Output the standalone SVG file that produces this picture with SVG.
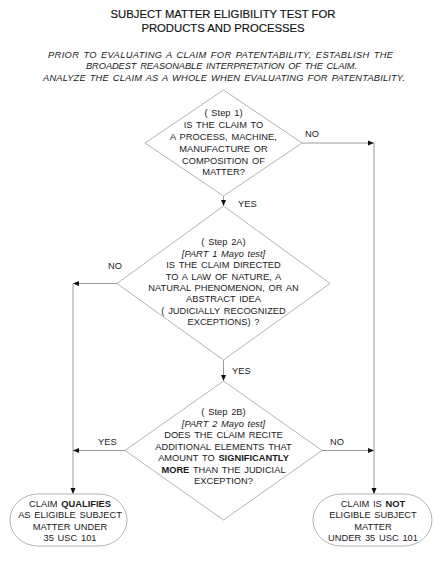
<svg xmlns="http://www.w3.org/2000/svg" width="441" height="563" viewBox="0 0 441 563">
<defs>
<marker id="ah" markerUnits="userSpaceOnUse" markerWidth="7" markerHeight="6" refX="6" refY="3" orient="auto">
<path d="M0,0.5 L6,3 L0,5.5 Z" fill="#111"/>
</marker>
<style>
.bg{fill:#fff}
.t{font-family:"Liberation Sans",Arial,sans-serif;font-size:9.3px;fill:#1a1a1a;text-anchor:middle;word-spacing:1.2px}
.ttl{font-family:"Liberation Sans",Arial,sans-serif;font-size:11.3px;fill:#111;text-anchor:middle;stroke:#111;stroke-width:0.15}
.it{font-style:italic}
.b{font-weight:bold}
.lbl{font-family:"Liberation Sans",Arial,sans-serif;font-size:9.3px;fill:#1a1a1a}
.shape{fill:#fff;stroke:#b3b3b3;stroke-width:1}
.conn{fill:none;stroke:#9a9a9a;stroke-width:1}
</style>
</defs>
<rect class="bg" x="0" y="0" width="441" height="563"/>
<g id="header">
<text class="ttl" x="223" y="18">SUBJECT MATTER ELIGIBILITY TEST FOR</text>
<text class="ttl" x="223" y="31.5">PRODUCTS AND PROCESSES</text>
<text class="t it" x="220.5" y="57.5" textLength="345" lengthAdjust="spacing">PRIOR TO EVALUATING A CLAIM FOR PATENTABILITY, ESTABLISH THE</text>
<text class="t it" x="221.5" y="69" textLength="271" lengthAdjust="spacing">BROADEST REASONABLE INTERPRETATION OF THE CLAIM.</text>
<text class="t it" x="224" y="80.5" textLength="362" lengthAdjust="spacing">ANALYZE THE CLAIM AS A WHOLE WHEN EVALUATING FOR PATENTABILITY.</text>
</g>
<g id="connectors">
<path class="conn" d="M302,143 H374" marker-end="url(#ah)"/>
<path class="conn" d="M374,143 V494" marker-end="url(#ah)"/>
<path class="conn" d="M223.5,196 V206" marker-end="url(#ah)"/>
<path class="conn" d="M223.5,360 V381" marker-end="url(#ah)"/>
<path class="conn" d="M117,283.5 H73" marker-end="url(#ah)"/>
<path class="conn" d="M73,283.5 V494" marker-end="url(#ah)"/>
<path class="conn" d="M125,450.5 H73" marker-end="url(#ah)"/>
<path class="conn" d="M322,450.5 H374" marker-end="url(#ah)"/>
<text class="lbl" x="305" y="136.5">NO</text>
<text class="lbl" x="238" y="206.5">YES</text>
<text class="lbl" x="108" y="268.5">NO</text>
<text class="lbl" x="232" y="373.5">YES</text>
<text class="lbl" x="98" y="444.5">YES</text>
<text class="lbl" x="330" y="444.5">NO</text>
</g>
<g id="step1">
<polygon class="shape" points="223.5,90 302,143 223.5,196 145,143"/>
<text class="t" x="223.5" y="116.4">( Step 1)</text>
<text class="t" x="223.5" y="128.2">IS THE CLAIM TO</text>
<text class="t" x="223.5" y="140">A PROCESS, MACHINE,</text>
<text class="t" x="223.5" y="151.8">MANUFACTURE OR</text>
<text class="t" x="223.5" y="163.6">COMPOSITION OF</text>
<text class="t" x="223.5" y="175.4">MATTER?</text>
</g>
<g id="step2a">
<polygon class="shape" points="223.5,206 330,283.5 223.5,360 117,283.5"/>
<text class="t" x="223.5" y="245.4">( Step 2A)</text>
<text class="t it" x="223.5" y="256.8">[PART 1 Mayo test]</text>
<text class="t" x="223.5" y="268.2">IS THE CLAIM DIRECTED</text>
<text class="t" x="223.5" y="279.6">TO A LAW OF NATURE, A</text>
<text class="t" x="223.5" y="291">NATURAL PHENOMENON, OR AN</text>
<text class="t" x="223.5" y="302.4">ABSTRACT IDEA</text>
<text class="t" x="223.5" y="313.8">( JUDICIALLY RECOGNIZED</text>
<text class="t" x="223.5" y="325.2">EXCEPTIONS) ?</text>
</g>
<g id="step2b">
<polygon class="shape" points="223.5,381 322,450.5 223.5,520 125,450.5"/>
<text class="t" x="223.5" y="415">( Step 2B)</text>
<text class="t it" x="223.5" y="426.5">[PART 2 Mayo test]</text>
<text class="t" x="223.5" y="438">DOES THE CLAIM RECITE</text>
<text class="t" x="223.5" y="449.5">ADDITIONAL ELEMENTS THAT</text>
<text class="t" x="223.5" y="461">AMOUNT TO <tspan class="b">SIGNIFICANTLY</tspan></text>
<text class="t" x="223.5" y="472.5"><tspan class="b">MORE</tspan> THAN THE JUDICIAL</text>
<text class="t" x="223.5" y="484">EXCEPTION?</text>
</g>
<g id="eligible">
<rect class="shape" x="10" y="494" width="117" height="52" rx="28" ry="26"/>
<text class="t" x="70" y="507">CLAIM <tspan class="b">QUALIFIES</tspan></text>
<text class="t" x="70" y="518.3">AS ELIGIBLE SUBJECT</text>
<text class="t" x="70" y="529.6">MATTER UNDER</text>
<text class="t" x="70" y="541">35 USC 101</text>
</g>
<g id="not-eligible">
<rect class="shape" x="313" y="494" width="119" height="52" rx="28" ry="26"/>
<text class="t" x="373" y="507">CLAIM IS <tspan class="b">NOT</tspan></text>
<text class="t" x="373" y="518.3">ELIGIBLE SUBJECT</text>
<text class="t" x="373" y="529.6">MATTER</text>
<text class="t" x="373" y="541">UNDER 35 USC 101</text>
</g>
</svg>
